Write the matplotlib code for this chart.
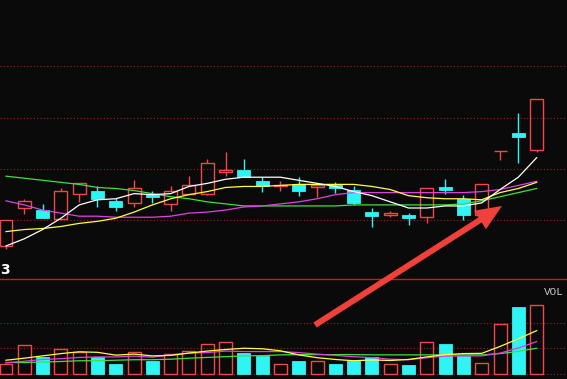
import matplotlib
matplotlib.use("Agg")
import matplotlib.pyplot as plt
from matplotlib.patches import Rectangle, FancyArrow
import numpy as np

# ---------------- data ----------------
opens  = [8.75, 9.12, 9.10, 9.01, 9.26, 9.29, 9.19, 9.17, 9.26, 9.16,
          9.26, 9.26, 9.47, 9.49, 9.38, 9.33, 9.35, 9.32, 9.34, 9.30,
          9.08, 9.05, 9.05, 9.03, 9.32, 9.21, 9.05, 9.68, 9.85, 9.69]
closes = [9.00, 9.19, 9.02, 9.29, 9.36, 9.21, 9.13, 9.31, 9.23, 9.29,
          9.34, 9.56, 9.49, 9.42, 9.33, 9.34, 9.29, 9.34, 9.31, 9.17,
          9.04, 9.07, 9.02, 9.31, 9.30, 9.05, 9.35, 9.68, 9.81, 10.18]
highs  = [9.00, 9.21, 9.16, 9.31, 9.36, 9.33, 9.22, 9.39, 9.29, 9.33,
          9.43, 9.60, 9.67, 9.60, 9.42, 9.38, 9.42, 9.34, 9.37, 9.33,
          9.12, 9.09, 9.07, 9.31, 9.40, 9.25, 9.35, 9.68, 10.05, 10.18]
lows   = [8.72, 9.06, 9.02, 9.00, 9.18, 9.13, 9.09, 9.13, 9.17, 9.09,
          9.26, 9.25, 9.43, 9.42, 9.28, 9.29, 9.24, 9.23, 9.27, 9.15,
          8.93, 9.03, 8.95, 8.97, 9.26, 9.00, 9.04, 9.59, 9.56, 9.67]

ma_white  = [8.75, 8.82, 8.91, 9.02, 9.15, 9.20, 9.21, 9.26, 9.25, 9.26,
             9.33, 9.36, 9.40, 9.42, 9.42, 9.42, 9.39, 9.36, 9.33, 9.28,
             9.24, 9.18, 9.12, 9.12, 9.14, 9.14, 9.17, 9.30, 9.42, 9.61]
ma_yellow = [8.89, 8.91, 8.92, 8.94, 8.97, 8.99, 9.02, 9.08, 9.15, 9.21,
             9.25, 9.28, 9.32, 9.33, 9.33, 9.34, 9.35, 9.35, 9.35, 9.35,
             9.33, 9.30, 9.24, 9.22, 9.21, 9.21, 9.20, 9.27, 9.31, 9.37]
ma_magenta = [9.19, 9.15, 9.10, 9.07, 9.04, 9.04, 9.03, 9.03, 9.03, 9.04,
              9.07, 9.08, 9.10, 9.13, 9.14, 9.16, 9.18, 9.21, 9.25, 9.27,
              9.27, 9.27, 9.27, 9.27, 9.27, 9.27, 9.28, 9.30, 9.34, 9.38]
ma_green  = [9.43, 9.41, 9.39, 9.37, 9.35, 9.32, 9.31, 9.29, 9.26, 9.23,
             9.21, 9.18, 9.16, 9.14, 9.14, 9.14, 9.14, 9.14, 9.14, 9.15,
             9.15, 9.15, 9.15, 9.15, 9.15, 9.16, 9.19, 9.23, 9.27, 9.31]

volume = [3.9, 11.3, 6.5, 9.7, 8.5, 6.8, 3.9, 8.5, 5.2, 7.7,
          9.0, 11.6, 12.5, 8.1, 7.2, 3.9, 5.1, 5.1, 3.8, 5.1,
          6.5, 3.8, 3.5, 12.4, 11.8, 7.1, 4.2, 19.5, 26.4, 27.1]
vol_yellow = [5.4, 6.2, 7.1, 8.0, 8.7, 8.5, 7.4, 7.8, 7.1, 7.3,
              8.2, 9.0, 9.6, 10.1, 9.9, 9.1, 7.5, 6.4, 5.7, 5.2,
              5.5, 5.3, 5.7, 6.7, 7.6, 8.0, 8.1, 10.8, 13.8, 17.0]
vol_magenta = [4.4, 5.0, 5.7, 6.0, 6.5, 6.7, 6.7, 7.0, 6.6, 7.5,
               8.2, 8.4, 9.0, 8.8, 8.8, 8.8, 8.4, 7.8, 7.3, 6.8,
               6.4, 5.8, 5.6, 6.4, 7.0, 7.1, 7.1, 8.2, 10.2, 12.7]
vol_green = [4.5, 4.5, 4.7, 4.9, 5.2, 5.2, 5.4, 5.6, 5.6, 5.8,
             6.2, 6.5, 6.8, 7.1, 7.2, 7.5, 7.6, 7.6, 7.6, 7.6,
             7.5, 7.5, 7.5, 7.5, 7.5, 7.5, 7.5, 8.0, 8.9, 10.1]

price_grid = [9.0, 9.5, 10.0, 10.5]
vol_grid = [0, 10, 20]

# ---------------- style ----------------
BG = "#0a0a0a"
RED = "#f04848"
CYAN = "#2ef4f4"
GRID = "#9a2222"
W, H = 567, 379

fig = plt.figure(figsize=(W / 100, H / 100), dpi=100, facecolor=BG)

x = np.arange(len(opens))
xlim = (-0.328, 30.66)
bw = 0.71

# price panel: figure pixel rows 0..279
axp = fig.add_axes([0, (H - 279) / H, 1, 279 / H], facecolor=BG)
axp.set_xlim(*xlim)
axp.set_ylim(8.428, 11.147)
axp.axis("off")
for g in price_grid:
    axp.axhline(g, color=GRID, lw=0.8, ls=(0, (1, 2)), zorder=0)

for xi, o, c, h, l in zip(x, opens, closes, highs, lows):
    up = c >= o
    top, bot = max(o, c), min(o, c)
    if up:
        axp.vlines(xi, top, h, color=RED, lw=1.0, zorder=4)
        axp.vlines(xi, l, bot, color=RED, lw=1.0, zorder=4)
        axp.add_patch(Rectangle((xi - bw / 2, bot), bw, top - bot,
                                facecolor="none", edgecolor=RED, lw=1.0, zorder=4))
    else:
        axp.vlines(xi, l, h, color=CYAN, lw=1.0, zorder=4)
        axp.add_patch(Rectangle((xi - bw / 2, bot), bw, top - bot,
                                facecolor=CYAN, edgecolor=CYAN, lw=0.6, zorder=4))

axp.plot(x, ma_green, color="#3ee03e", lw=0.9, zorder=5)
axp.plot(x, ma_magenta, color="#e040e0", lw=0.9, zorder=5)
axp.plot(x, ma_yellow, color="#ffff40", lw=0.9, zorder=5)
axp.plot(x, ma_white, color="#ffffff", lw=0.9, zorder=5)

# volume panel: figure pixel rows 279..379
axv = fig.add_axes([0, 0, 1, 100 / H], facecolor=BG)
axv.set_xlim(*xlim)
axv.set_ylim(-1.96, 37.25)
for s in ["left", "right", "bottom"]:
    axv.spines[s].set_visible(False)
axv.spines["top"].set_color("#c02020")
axv.spines["top"].set_linewidth(1.0)
axv.set_xticks([])
axv.set_yticks([])
for g in vol_grid:
    axv.axhline(g, color=GRID, lw=0.8, ls=(0, (1, 2)), zorder=0)

for xi, o, c, v in zip(x, opens, closes, volume):
    if c >= o:
        axv.bar(xi, v, width=bw, facecolor="none", edgecolor=RED, lw=1.0, zorder=3)
    else:
        axv.bar(xi, v, width=bw, facecolor=CYAN, edgecolor=CYAN, lw=0.6, zorder=3)

axv.plot(x, vol_green, color="#3ee03e", lw=0.9, zorder=5)
axv.plot(x, vol_magenta, color="#e040e0", lw=0.9, zorder=5)
axv.plot(x, vol_yellow, color="#ffff40", lw=0.9, zorder=5)
axv.text(0.995, 0.87, "VOL", transform=axv.transAxes, ha="right", va="center",
         color="#c8c8c8", fontsize=8, family="Liberation Mono")

# label at left
fig.text(0.0, 1 - 277 / H, "3", color="white", fontsize=10,
         fontweight="bold", ha="left", va="bottom")

# overlay for annotation arrow (pixel units)
axo = fig.add_axes([0, 0, 1, 1], facecolor="none")
axo.set_xlim(0, W)
axo.set_ylim(H, 0)
axo.axis("off")
axo.add_patch(FancyArrow(315, 325, 187, -119, width=6, head_width=22,
                         head_length=26, length_includes_head=True,
                         color="#f0403a", lw=0))

fig.savefig("out.png", dpi=100, facecolor=BG)
